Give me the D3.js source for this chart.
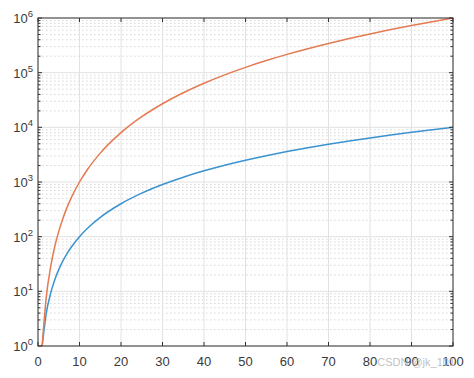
<!DOCTYPE html>
<html>
<head>
<meta charset="utf-8">
<script src="https://cdn.jsdelivr.net/npm/d3@7"></script>
<style>
  body { margin: 0; background: #fff; }
  text { font-family: "Liberation Sans", Arial, sans-serif; }
</style>
</head>
<body>
<script>
// values
var xs      = [1, 2, 3, 4, 5, 6, 7, 8, 10, 12, 15, 20, 25, 30, 35, 40, 45, 50, 55, 60, 65, 70, 75, 80, 85, 90, 95, 100];
var squares = [1, 4, 9, 16, 25, 36, 49, 64, 100, 144, 225, 400, 625, 900, 1225, 1600, 2025, 2500, 3025, 3600, 4225, 4900, 5625, 6400, 7225, 8100, 9025, 10000];
var cubes   = [1, 8, 27, 64, 125, 216, 343, 512, 1000, 1728, 3375, 8000, 15625, 27000, 42875, 64000, 91125, 125000, 166375, 216000, 274625, 343000, 421875, 512000, 614125, 729000, 857375, 1000000];
var xTicks  = [0, 10, 20, 30, 40, 50, 60, 70, 80, 90, 100];
var yExps   = [0, 1, 2, 3, 4, 5, 6];

// init
var W = 474, H = 378,
    margin = { top: 18, right: 21, bottom: 32, left: 38 },
    width  = W - margin.left - margin.right,
    height = H - margin.top - margin.bottom;

var xScale = d3.scaleLinear().domain([0, 100]).range([0, width]);
var yScale = d3.scaleLog().domain([1, 1e6]).range([height, 0]);

var root = d3.select('body').append('svg')
    .attr('width', W)
    .attr('height', H);

var svg = root.append('g')
    .attr('transform', 'translate(' + margin.left + ',' + margin.top + ')');

// minor y values (2..9 of each decade)
var minors = [];
yExps.slice(0, -1).forEach(function(e) {
    for (var k = 2; k <= 9; k++) minors.push(k * Math.pow(10, e));
});

// minor grid (dotted)
svg.selectAll('.minor-grid').data(minors).enter()
    .append('line')
    .attr('class', 'minor-grid')
    .attr('x1', 0).attr('x2', width)
    .attr('y1', function(d) { return yScale(d); })
    .attr('y2', function(d) { return yScale(d); })
    .attr('stroke', '#d6d6d6')
    .attr('stroke-width', 1)
    .attr('stroke-dasharray', '1.5,2.5');

// major grid
svg.selectAll('.ygrid').data(yExps).enter()
    .append('line')
    .attr('x1', 0).attr('x2', width)
    .attr('y1', function(d) { return yScale(Math.pow(10, d)); })
    .attr('y2', function(d) { return yScale(Math.pow(10, d)); })
    .attr('stroke', '#e2e2e2')
    .attr('stroke-width', 1);

svg.selectAll('.xgrid').data(xTicks).enter()
    .append('line')
    .attr('x1', function(d) { return xScale(d); })
    .attr('x2', function(d) { return xScale(d); })
    .attr('y1', 0).attr('y2', height)
    .attr('stroke', '#e2e2e2')
    .attr('stroke-width', 1);

// lines
var line = d3.line()
    .x(function(d) { return xScale(d[0]); })
    .y(function(d) { return yScale(d[1]); })
    .curve(d3.curveMonotoneX);

svg.append('path')
    .datum(d3.zip(xs, squares))
    .attr('d', line)
    .attr('fill', 'none')
    .attr('stroke', '#3a93d0')
    .attr('stroke-width', 1.5);

svg.append('path')
    .datum(d3.zip(xs, cubes))
    .attr('d', line)
    .attr('fill', 'none')
    .attr('stroke', '#e57a52')
    .attr('stroke-width', 1.5);

// box
svg.append('rect')
    .attr('width', width).attr('height', height)
    .attr('fill', 'none')
    .attr('stroke', '#333')
    .attr('stroke-width', 1);

// ticks (inward, all four sides)
var tickColor = '#333';
xTicks.forEach(function(t) {
    var x = xScale(t);
    svg.append('line').attr('x1', x).attr('x2', x).attr('y1', height).attr('y2', height - 4).attr('stroke', tickColor);
    svg.append('line').attr('x1', x).attr('x2', x).attr('y1', 0).attr('y2', 4).attr('stroke', tickColor);
});
yExps.forEach(function(e) {
    var y = yScale(Math.pow(10, e));
    svg.append('line').attr('x1', 0).attr('x2', 4).attr('y1', y).attr('y2', y).attr('stroke', tickColor);
    svg.append('line').attr('x1', width).attr('x2', width - 4).attr('y1', y).attr('y2', y).attr('stroke', tickColor);
});
minors.forEach(function(m) {
    var y = yScale(m);
    svg.append('line').attr('x1', 0).attr('x2', 2.5).attr('y1', y).attr('y2', y).attr('stroke', tickColor);
    svg.append('line').attr('x1', width).attr('x2', width - 2.5).attr('y1', y).attr('y2', y).attr('stroke', tickColor);
});

// x tick labels
svg.selectAll('.xlab').data(xTicks).enter()
    .append('text')
    .attr('x', function(d) { return xScale(d); })
    .attr('y', height + 20)
    .attr('text-anchor', 'middle')
    .attr('font-size', 13)
    .attr('fill', '#3a3a3a')
    .text(function(d) { return d; });

// y tick labels 10^n
var ylab = svg.selectAll('.ylab').data(yExps).enter()
    .append('text')
    .attr('x', -5)
    .attr('y', function(d) { return yScale(Math.pow(10, d)) + 5; })
    .attr('text-anchor', 'end')
    .attr('font-size', 13)
    .attr('fill', '#3a3a3a');
ylab.append('tspan').text('10');
ylab.append('tspan')
    .attr('dy', -6)
    .attr('font-size', 9.5)
    .text(function(d) { return d; });

// watermark
root.append('text')
    .attr('x', 455)
    .attr('y', 366)
    .attr('text-anchor', 'end')
    .attr('font-size', 11)
    .attr('fill', '#b8b8b8')
    .attr('fill-opacity', 0.9)
    .text('CSDN @jk_101');
</script>
</body>
</html>
